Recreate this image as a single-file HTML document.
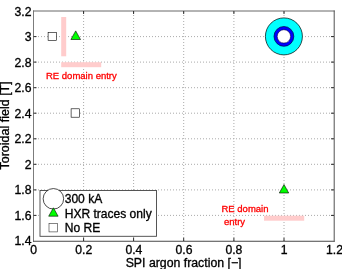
<!DOCTYPE html>
<html><head><meta charset="utf-8"><title>SPI argon fraction vs toroidal field</title>
<style>
html,body{margin:0;padding:0;background:#fff;overflow:hidden;}
svg{display:block;font-family:"Liberation Sans",sans-serif;}
.t{fill:#000;stroke:#000;stroke-width:0.32px;}
.r{fill:#ff0000;stroke:#ff0000;stroke-width:0.3px;}
</style></head><body>
<svg width="342" height="269" viewBox="0 0 342 269">
<rect width="342" height="269" fill="#fff"/>
<!-- grid -->
<g stroke="#aaaaaa" stroke-width="1" stroke-dasharray="1 2" fill="none">
<path d="M83.6 12V241M133.6 12V241M183.7 12V241M233.9 12V241M284 12V241"/>
<path d="M35 36.6H334M35 62.1H334M35 87.7H334M35 113.2H334M35 138.8H334M35 164.3H334M35 189.9H334M35 215.4H334"/>
</g>
<!-- pink bars -->
<rect x="61.2" y="17" width="5" height="39.3" fill="#ffcccc"/>
<rect x="61.2" y="62.2" width="40" height="5" fill="#ffcccc"/>
<rect x="264" y="215.7" width="40.2" height="5" fill="#ffcccc"/>
<!-- axes box -->
<g fill="none" stroke-width="1">
<path d="M33.5 10.5V241.7" stroke="#7c7c7c"/>
<path d="M33 11H334.7" stroke="#686868"/>
<path d="M33 241.25H334.7" stroke="#484848"/>
<path d="M334.2 10.5V241.7" stroke="#505050"/>
</g>
<!-- ticks -->
<g stroke="#2a2a2a" stroke-width="1">
<path d="M83.6 241v-3.2M133.6 241v-3.2M183.7 241v-3.2M233.9 241v-3.2M284 241v-3.2"/>
<path d="M83.6 11v3M133.6 11v3M183.7 11v3M233.9 11v3M284 11v3"/>
<path d="M33.5 36.6h3M33.5 62.1h3M33.5 87.7h3M33.5 113.2h3M33.5 138.8h3M33.5 164.3h3M33.5 189.9h3M33.5 215.4h3"/>
<path d="M334 36.6h-3M334 62.1h-3M334 87.7h-3M334 113.2h-3M334 138.8h-3M334 164.3h-3M334 189.9h-3M334 215.4h-3"/>
</g>
<!-- data -->
<circle cx="283.9" cy="36.4" r="18.5" fill="#00ffff" stroke="#000" stroke-width="0.7"/>
<circle cx="283.9" cy="36.4" r="9.9" fill="#0000ff" stroke="#000044" stroke-width="0.7"/>
<circle cx="283.9" cy="36.4" r="6.7" fill="#fff" stroke="#000044" stroke-width="0.6"/>
<rect x="48.1" y="32.3" width="8.4" height="8.4" fill="#fff" stroke="#000" stroke-width="0.6"/>
<rect x="71.1" y="108.8" width="8.4" height="8.4" fill="#fff" stroke="#000" stroke-width="0.6"/>
<path d="M70.9 39.5L75.7 30.9L80.5 39.5Z" fill="#00ff00" stroke="#000" stroke-width="0.6"/>
<path d="M279.3 193L284 184.5L288.7 193Z" fill="#00ff00" stroke="#000" stroke-width="0.6"/>
<!-- annotations -->
<g class="r" font-size="9.5px">
<text x="46" y="78.5">RE domain entry</text>
<text x="221.5" y="211.8">RE domain</text>
<text x="224" y="225">entry</text>
</g>
<!-- legend -->
<rect x="40" y="190.5" width="116.5" height="45.8" fill="#fff" stroke="#444" stroke-width="0.9"/>
<circle cx="53.4" cy="198.8" r="10.25" fill="#fff" stroke="#000" stroke-width="0.7"/>
<path d="M48.7 216.2L53.4 207.8L58.1 216.2Z" fill="#00ff00" stroke="#000" stroke-width="0.6"/>
<rect x="49" y="223.5" width="8.4" height="8.4" fill="#fff" stroke="#333" stroke-width="0.6"/>
<g class="t" font-size="12.05px">
<text x="64.7" y="203">300 kA</text>
<text x="64.7" y="217.5">HXR traces only</text>
<text x="64.7" y="232">No RE</text>
</g>
<!-- tick labels -->
<g class="t" font-size="12.2px" text-anchor="end">
<text x="31.5" y="15.7">3.2</text>
<text x="31.5" y="41.2">3</text>
<text x="31.5" y="66.7">2.8</text>
<text x="31.5" y="92.3">2.6</text>
<text x="31.5" y="117.8">2.4</text>
<text x="31.5" y="143.3">2.2</text>
<text x="31.5" y="168.8">2</text>
<text x="31.5" y="194.4">1.8</text>
<text x="31.5" y="219.9">1.6</text>
<text x="31.5" y="245.4">1.4</text>
</g>
<g class="t" font-size="12.2px" text-anchor="middle">
<text x="33.6" y="254.2">0</text>
<text x="83.8" y="254.2">0.2</text>
<text x="133.9" y="254.2">0.4</text>
<text x="184" y="254.2">0.6</text>
<text x="233.9" y="254.2">0.8</text>
<text x="284.2" y="254.2">1</text>
<text x="334.5" y="254.2">1.2</text>
</g>
<text class="t" x="183.6" y="267" font-size="12.3px" text-anchor="middle">SPI argon fraction [−]</text>
<text class="t" transform="translate(8.6,125.4) rotate(-90)" font-size="12.5px" text-anchor="middle">Toroidal field [T]</text>
</svg>
</body></html>
